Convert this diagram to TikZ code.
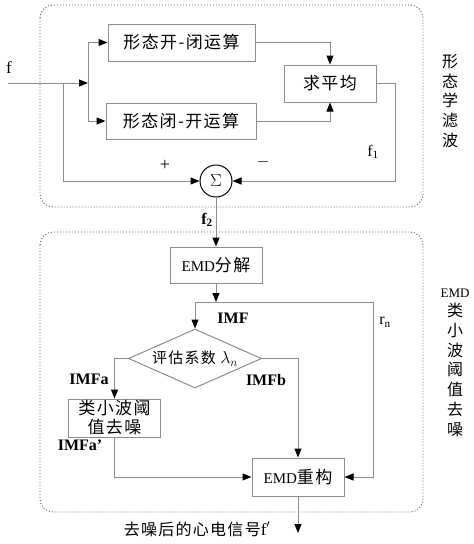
\documentclass[tikz,border=0pt]{standalone}
\usepackage{fontspec}
\setmainfont{Liberation Serif}
\newfontfamily\cjk[LetterSpace=8]{Noto Sans CJK SC}
\usetikzlibrary{arrows.meta,shapes.geometric}
\definecolor{ln}{RGB}{140,140,140}
\definecolor{fr}{RGB}{90,90,90}
\begin{document}
\begin{tikzpicture}[x=1pt,y=-1pt,
  every path/.style={line width=1pt},
  box/.style={draw=ln, line width=1pt, inner sep=0pt, font=\cjk\fontsize{17}{20}\selectfont},
  arr/.style={draw=ln, -{Triangle[length=9pt,width=7pt,color=black]}},
  ln/.style={draw=ln},
  frame/.style={draw=fr, dotted, line width=0.9pt, rounded corners=13pt},
  lbl/.style={font=\fontsize{16}{16}\selectfont, inner sep=0pt},
  blbl/.style={font=\bfseries\fontsize{16}{16}\selectfont, inner sep=0pt},
  side/.style={font=\cjk\fontsize{16}{19.7}\selectfont, align=center, inner sep=0pt}
]
\useasboundingbox (0,0) rectangle (474,544);
% frames
\draw[frame] (40,5) rectangle (423,207);
\draw[frame] (40,232) rectangle (423,512);
% nodes
\node[box, minimum width=147pt, minimum height=37pt] (oc) at (181.5,42.5) {形态开-闭运算};
\node[box, minimum width=150pt, minimum height=36pt] (co) at (181,121) {形态闭-开运算};
\node[box, minimum width=92pt, minimum height=37pt] (avg) at (330,83.5) {求平均};
\node[draw=black, circle, minimum size=32pt, inner sep=0pt, font=\fontsize{19}{19}\selectfont] (sum) at (216,181) {$\Sigma$};
\node[box, minimum width=92pt, minimum height=36pt] (emd) at (216,265) {{\rmfamily\fontsize{15}{15}\selectfont EMD}分解};
\node[box, shape=diamond, aspect=2.25, minimum width=133pt, minimum height=59pt, font=\cjk\fontsize{15}{15}\selectfont] (dia) at (195,358.5) {评估系数 {\rmfamily\fontsize{17}{17}\selectfont$\lambda_n$}};
\node[box, minimum width=92pt, minimum height=38pt, align=center, font=\cjk\fontsize{17}{19}\selectfont] (wav) at (114.5,418) {类小波阈\\值去噪};
\node[box, minimum width=92pt, minimum height=38pt] (rec) at (298,477) {{\rmfamily\fontsize{15}{15}\selectfont EMD}重构};
% coordinates
\coordinate (fin) at (8,83);
\coordinate (split) at (88,83);
\coordinate (s1) at (88,42.5);
\coordinate (s2) at (88,121);
\coordinate (b1) at (63,83);
\coordinate (r1) at (395,181);
\coordinate (j) at (216,302);
\coordinate (jl) at (195,302);
\coordinate (jr) at (373,302);
\coordinate (out) at (298,533);
% connectors
\draw[arr] (fin) -- (split);
\draw[ln] (s1) -- (s2);
\draw[arr] (s1) -- (oc.west);
\draw[arr] (s2) -- (co.west);
\draw[arr] (b1) |- (sum.west);
\draw[arr] (oc.east) -| (avg.north);
\draw[arr] (co.east) -| (avg.south);
\draw[arr] (avg.east) -| (r1) -- (sum.east);
\draw[arr] (sum.south) -- (emd.north);
\draw[arr] (emd.south) -- (j);
\draw[ln] (jl) -- (jr);
\draw[arr] (jl) -- (dia.north);
\draw[arr] (jr) |- (rec.east);
\draw[arr] (dia.west) -| (wav.north);
\draw[arr] (dia.east) -| (rec.north);
\draw[arr] (wav.south) |- (rec.west);
\draw[arr] (rec.south) -- (out);
% labels
\node[lbl, font=\fontsize{17}{17}\selectfont] (lf) at (9,68) {f};
\node[lbl, font=\fontsize{18}{18}\selectfont] (lplus) at (165,165) {+};
\node[lbl, font=\fontsize{16}{16}\selectfont] (lminus) at (263,162) {$-$};
\node[lbl] (lf1) at (373,152) {f\textsubscript{1}};
\node[blbl] (lf2) at (207,220) {f\textsubscript{2}};
\node[blbl] (limf) at (233,318) {IMF};
\node[lbl] (lrn) at (385,322) {r\textsubscript{n}};
\node[blbl] (limfa) at (89,379) {IMFa};
\node[blbl] (limfb) at (266,380) {IMFb};
\node[blbl] (limfa2) at (80,445) {IMFa’};
\node[inner sep=0pt, font=\cjk\fontsize{16}{16}\selectfont] (lout) at (197,529) {去噪后的心电信号{\rmfamily\fontsize{17}{17}\selectfont f$'$}};
\node[side] (t1) at (450,101) {形\\态\\学\\滤\\波};
\node[side] (t2) at (455,362.5) {{\rmfamily\fontsize{13}{13}\selectfont EMD}\\类\\小\\波\\阈\\值\\去\\噪};
\end{tikzpicture}
\end{document}
